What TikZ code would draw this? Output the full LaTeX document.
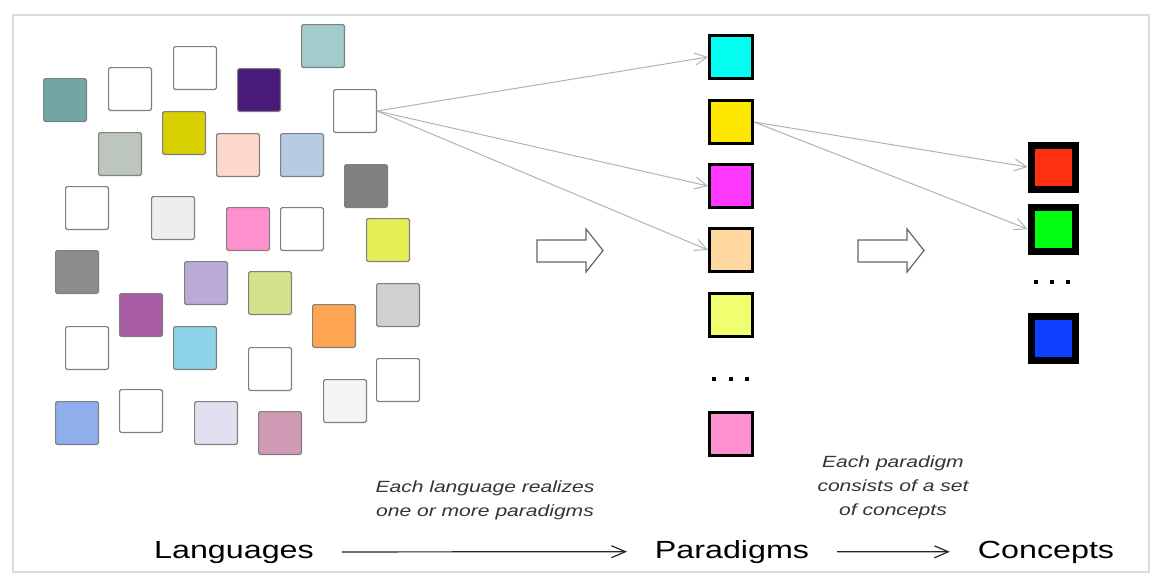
\documentclass[tikz,border=0pt]{standalone}
\usepackage{fontspec}
\setmainfont{Liberation Sans}[FakeStretch=1.3]
\usepackage{xcolor}
\usepackage{tikz}
\usetikzlibrary{arrows.meta}

\begin{document}
\begin{tikzpicture}[x=0.5pt,y=-0.5pt,
    langsq/.style={draw=black!50,line width=0.6pt,minimum size=21.4pt,inner sep=0pt,rounded corners=0.8pt},
    parasq/.style={draw=black,line width=1.5pt,minimum size=21.5pt,inner sep=0pt},
    conceptsq/.style={draw=black,line width=3.5pt,minimum size=22pt,inner sep=0pt},
    link/.style={draw=black!30,line width=0.5pt,-{Straight Barb[length=6pt,width=6pt]}},
    flow/.style={draw=black!85,line width=0.6pt,-{Straight Barb[length=7pt,width=6pt]}},
    bigarrow/.style={draw=black!60,line width=0.6pt,fill=white},
    biglabel/.style={font=\fontsize{12.4pt}{14pt}\selectfont,inner sep=0pt,outer sep=14pt,anchor=base},
    note/.style={font=\fontsize{8.1pt}{12pt}\selectfont\itshape,text=black!80,align=center}]
  \useasboundingbox (0,0) rectangle (1163,584);
  \draw[black!14,line width=0.75pt] (13,15) rectangle (1149,572);
  % the languages
  \foreach \px/\py/\c [count=\i] in {
      65/100/72A6A4, 130/89/FFFFFF, 195/68/FFFFFF, 259/90/4A1A78, 323/46/A2CCCC,
      184/133/D8D000, 120/154/BCC6BC, 238/155/FDD9CB, 302/155/B5CCE3, 366/186/808080,
      87/208/FFFFFF, 173/218/EEEEEE, 248/229/FF90CE, 302/229/FFFFFF, 388/240/E6EE55,
      77/272/8C8C8C, 206/283/BAAAD8, 270/293/D4E28C, 141/315/A85CA4, 334/326/FFA552,
      398/305/D0D0D0, 87/348/FFFFFF, 195/348/8DD3E8, 270/369/FFFFFF, 398/380/FFFFFF,
      345/401/F5F5F5, 77/423/8FAEEC, 141/411/FFFFFF, 216/423/E0E0F0, 280/433/D09AB4}
    {\definecolor{sqfill}{HTML}{\c}
     \node[langsq,fill=sqfill] (l\i) at (\px,\py) {};}
  \node[langsq,fill=white] (lang) at (355,111) {};
  % the paradigms
  \foreach \py/\c [count=\i] in {57/00FFF0, 122/FFE800, 186/FF38FF, 250/FFD8A0, 315/F0FF70, 434/FF90D0}
    {\definecolor{sqfill}{HTML}{\c}
     \node[parasq,fill=sqfill] (p\i) at (731,\py) {};}
  \foreach \dx in {714,731,747}
    \fill (\dx-2,377) rectangle ++(4,4);
  % the concepts
  \foreach \py/\c [count=\i] in {167/FF3010, 229/00FF10, 338/1040FF}
    {\definecolor{sqfill}{HTML}{\c}
     \node[conceptsq,fill=sqfill] (c\i) at (1053,\py) {};}
  \foreach \dx in {1036,1052,1068}
    \fill (\dx-2,280) rectangle ++(4,4);
  % links
  \draw[link] (lang.east) -- (p1.west);
  \draw[link] (lang.east) -- (p3.west);
  \draw[link] (lang.east) -- (p4.west);
  \draw[link] (p2.east) -- (c1.west);
  \draw[link] (p2.east) -- (c2.west);
  % hollow arrows
  \foreach \ax in {537,858}
    \draw[bigarrow] (\ax,240) -- (\ax+49,240) -- (\ax+49,229) -- (\ax+66,250.5)
      -- (\ax+49,272) -- (\ax+49,262) -- (\ax,262) -- cycle;
  % labels
  \node[biglabel] (languages) at (234,558) {Languages};
  \node[biglabel] (paradigms) at (732,558) {Paradigms};
  \node[biglabel] (concepts) at (1046,558) {Concepts};
  \draw[flow] (languages) -- (paradigms);
  \draw[flow] (paradigms) -- (concepts);
  \node[note] (realizes) at (485,500) {Each language realizes\\one or more paradigms};
  \node[note] (consists) at (893,487) {Each paradigm\\consists of a set\\of concepts};
\end{tikzpicture}
\end{document}
